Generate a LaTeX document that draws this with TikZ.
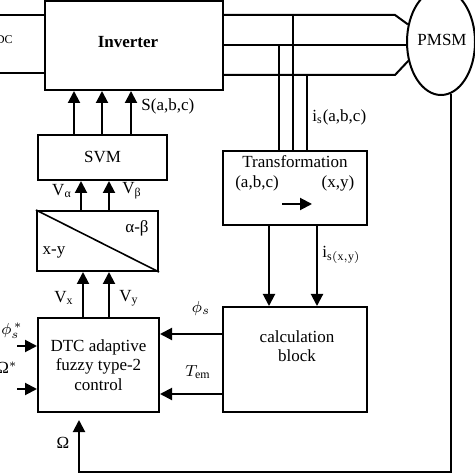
\documentclass[tikz,border=0pt]{standalone}
\usepackage{amsmath,amssymb}
\usepackage{fontspec}
\setmainfont{Liberation Serif}
\usetikzlibrary{arrows.meta,calc,positioning,shapes.geometric}

\tikzset{
  blk/.style={draw,line width=1pt,inner sep=0pt,align=center},
  wire/.style={line width=1pt},
  arr/.style={line width=1pt,-{Triangle[width=6pt,length=6pt]}},
  lbl/.style={inner sep=0pt}
}

\begin{document}
\begin{tikzpicture}[x=0.5pt,y=-0.5pt,font=\fontsize{8.5}{9.8}\selectfont]
       \useasboundingbox (0,0) rectangle (474,474);

       % blocks
       \node[blk,minimum width=89pt,minimum height=44.5pt] (INV) at (134,45.5) {};
       \node[lbl,font=\fontsize{8.5}{9.8}\selectfont\bfseries] (INVT) at (128,42) {Inverter};
       \node[blk,minimum width=64.5pt,minimum height=22.5pt] (SVM) at (102.5,157.5) {SVM};
       \node[blk,minimum width=60.5pt,minimum height=30pt] (XY) at (97.5,241) {};
       \node[blk,minimum width=60.5pt,minimum height=47pt] (DTC) at (98.5,365)
       {DTC adaptive\\fuzzy type-2\\control};
       \node[blk,minimum width=72pt,minimum height=37pt] (TR) at (295,188) {};
       \node[blk,minimum width=72pt,minimum height=52.5pt] (CB) at (295,359.5) {};
       \node[blk,ellipse,minimum width=34pt,minimum height=53pt] (PM) at (441,42) {};
       \node[lbl] (PMT) at (442,40) {PMSM};

       % texts inside blocks
       \draw[line width=0.8pt] (XY.north west) -- (XY.south east);
       \node[lbl] (AB) at (137,228) {α-β};
       \node[lbl] (XYT) at (54,252) {x-y};
       \node[lbl] (TRT) at (295,162) {Transformation};
       \node[lbl] (TRA) at (257,183) {(a,b,c)};
       \node[lbl] (TRB) at (338,183) {(x,y)};
       \coordinate (TRL) at (282,204);
       \coordinate (TRR) at (312,204);
       \draw[arr] (TRL) -- (TRR);
       \node[lbl,align=center] (CBT) at (297,346) {calculation\\block};

       % DC side
       \coordinate (DC1) at (0,15);
       \coordinate (DC2) at (0,73);
       \draw[wire] (DC1) -- (DC1 -| INV.west);
       \draw[wire] (DC2) -- (DC2 -| INV.west);
       \node[lbl,anchor=east] (VDC) at (14,37) {V$_{\mathrm{DC}}$};

       % motor side
       \coordinate (PA) at (395,15);
       \coordinate (PB) at (395,45);
       \coordinate (PC) at (395,75);
       \draw[wire] (PA -| INV.east) -- (PA) -- (PM.152);
       \draw[wire] (PB -| INV.east) -- (PB -| PM.west);
       \draw[wire] (PC -| INV.east) -- (PC) -- (PM.-150);

       % current sensing
       \draw[wire] (293,15) -- (293,0 |- TR.north);
       \draw[wire] (279,45) -- (279,0 |- TR.north);
       \draw[wire] (307,75) -- (307,0 |- TR.north);
       \node[lbl,anchor=west] (ISA) at (312,117) {i$_\mathrm{s}$(a,b,c)};
       \foreach \x in {269,317}
         \draw[arr] (\x,0 |- TR.south) -- (\x,0 |- CB.north);
       \node[lbl,anchor=west] (ISX) at (322,255) {i$_{\mathrm{s(x,y)}}$};

       % control chain
       \foreach \x in {74,102,131}
         \draw[arr] (\x,0 |- SVM.north) -- (\x,0 |- INV.south);
       \node[lbl,anchor=west] (SABC) at (141,106) {S(a,b,c)};
       \foreach \x in {81,109}
         \draw[arr] (\x,0 |- XY.north) -- (\x,0 |- SVM.south);
       \node[lbl] (VA) at (62,191) {V$_{\text{α}}$};
       \node[lbl] (VB) at (132,191) {V$_{\text{β}}$};
       \foreach \x in {83,109}
         \draw[arr] (\x,0 |- DTC.north) -- (\x,0 |- XY.south);
       \node[lbl] (VX) at (64,298) {V$_\mathrm{x}$};
       \node[lbl] (VY) at (129,298) {V$_\mathrm{y}$};

       % estimates
       \foreach \y in {334,394}
         \draw[arr] (CB.west |- 0,\y) -- (DTC.east |- 0,\y);
       \node[lbl] (PHI) at (201,309) {$\phi_s$};
       \node[lbl] (TEM) at (198,372) {$T_{\mathrm{em}}$};

       % references
       \coordinate (R1) at (17,346);
       \coordinate (R2) at (17,389);
       \draw[arr] (R1) -- (R1 -| DTC.west);
       \draw[arr] (R2) -- (R2 -| DTC.west);
       \node[lbl,anchor=east] (PHIR) at (23,331) {$\phi_s^{\,*}$};
       \node[lbl,anchor=east] (OMR) at (18,368) {Ω$^{*}$};

       % speed feedback
       \coordinate (FB) at (79,472);
       \coordinate (OT) at (79,420);
       \draw[arr] (PM.-79) |- (FB) -- (OT);
       \node[lbl] (OM) at (63,443) {Ω};
\end{tikzpicture}
\end{document}
